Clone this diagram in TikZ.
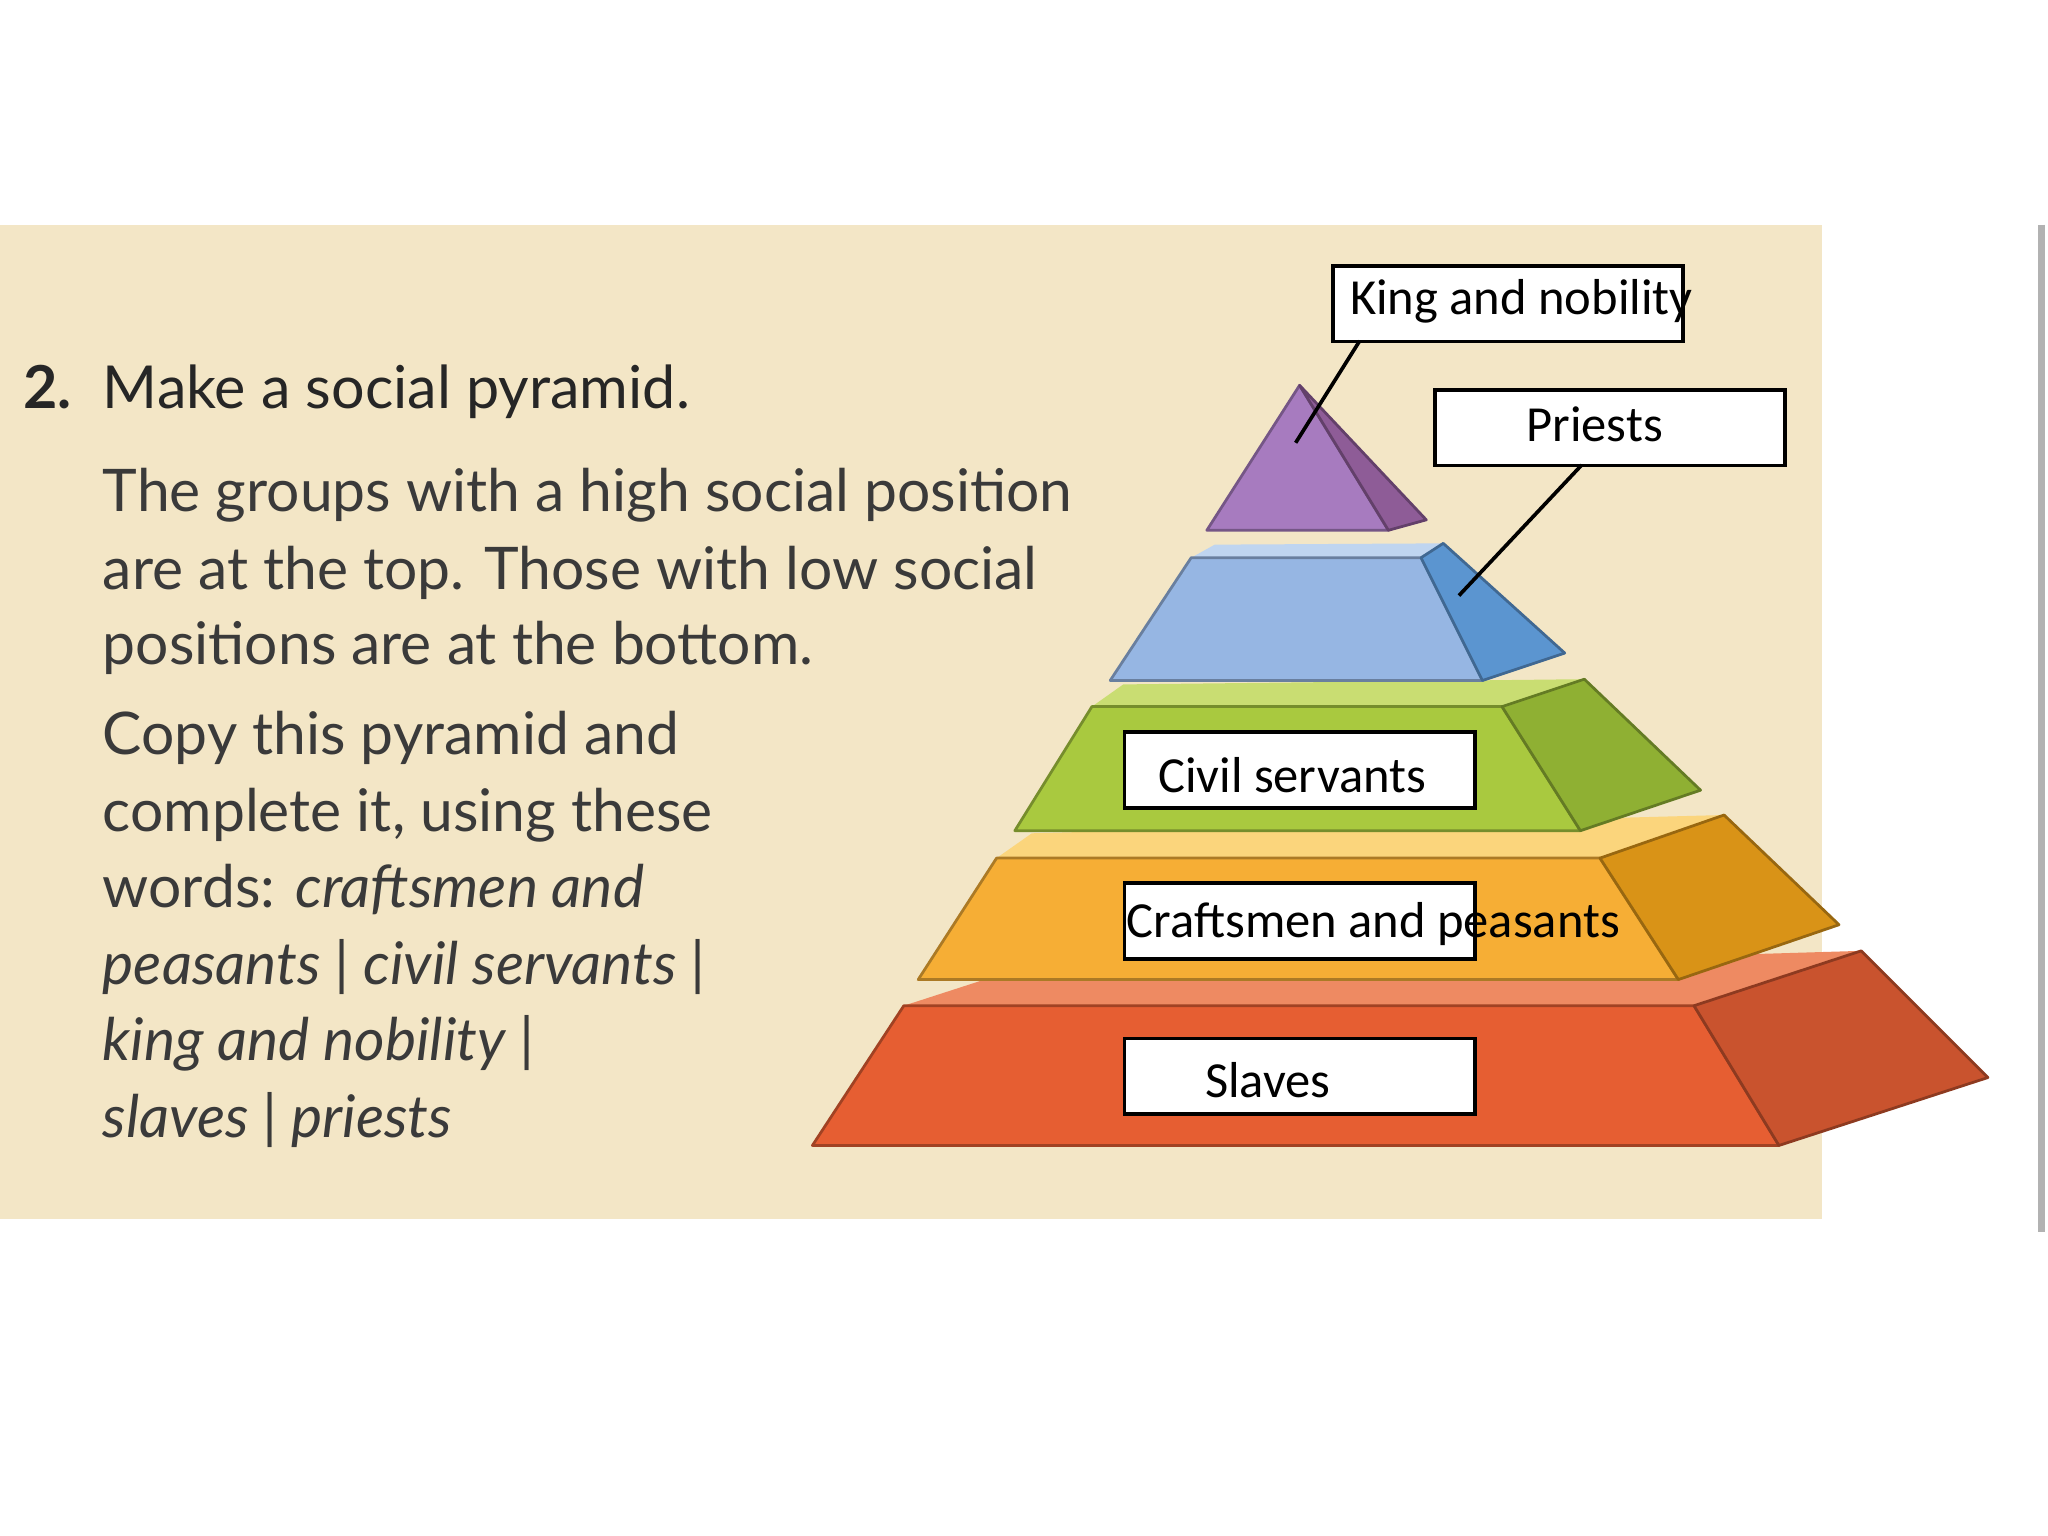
\documentclass[tikz,border=0pt]{standalone}
\usepackage{fontspec}
\setmainfont{Lato}
\newfontfamily\lbl{Carlito}
\definecolor{bg}{HTML}{F3E6C6}
\definecolor{txt}{HTML}{3A3A3A}
\tikzset{lab/.style={draw=black,line width=0.8pt,fill=white,minimum width=2.68cm,minimum height=0.58cm,inner sep=0pt},
 ltxt/.style={font=\lbl\fontsize{11pt}{11pt}\selectfont,anchor=base west,inner sep=0pt},
 body/.style={font=\fontsize{12.8pt}{16.5pt}\selectfont,text=txt,anchor=base west,inner sep=0pt},
 pe/.style={draw=#1!70!black,line width=0.6pt,line join=round}}
\begin{document}
\begin{tikzpicture}[x=0.01cm,y=-0.01cm]
\useasboundingbox (0,0) rectangle (1568,1176);
\fill[bg] (0,172) rectangle (1395,933);
\draw[gray!60,line width=1.5pt] (1563,172) -- (1563,943);
% text
\node[body,font=\bfseries\fontsize{12.9pt}{14pt}\selectfont,text=black!85] (n2) at (17,313) {2.};
\node[body,font=\fontsize{12.9pt}{14pt}\selectfont,text=black!85] (h) at (78,313) {Make a social pyramid.};
\node[body] (t1) at (78,392) {The groups with a high social position};
\node[body] (t2) at (78,451) {are at the top. Those with low social};
\node[body] (t3) at (78,509) {positions are at the bottom.};
\node[body] (t4) at (78,578) {Copy this pyramid and};
\node[body] (t5) at (78,637) {complete it, using these};
\node[body] (t6) at (78,695) {words: \textit{craftsmen and}};
\node[body] (t7) at (78,754) {\textit{peasants | civil servants |}};
\node[body] (t8) at (78,812) {\textit{king and nobility |}};
\node[body] (t9) at (78,871) {\textit{slaves | priests}};
% red
\definecolor{r1}{HTML}{E65E32}\definecolor{r2}{HTML}{C9532E}\definecolor{r3}{HTML}{EE8A62}
\fill[r3] (692,770) -- (760,748) -- (1425,728) -- (1297,770) -- cycle;
\fill[r1,pe=r1] (622,877) -- (692,770) -- (1297,770) -- (1362,877) -- cycle;
\fill[r2,pe=r2] (1297,770) -- (1425,728) -- (1522,825) -- (1362,877) -- cycle;
% orange
\definecolor{o1}{HTML}{F6AE35}\definecolor{o2}{HTML}{D99317}\definecolor{o3}{HTML}{FBD57C}
\fill[o3] (763,657) -- (790,638) -- (1320,624) -- (1225,657) -- cycle;
\fill[o1,pe=o1] (703,750) -- (763,657) -- (1225,657) -- (1285,750) -- cycle;
\fill[o2,pe=o2] (1225,657) -- (1320,624) -- (1408,708) -- (1285,750) -- cycle;
% green
\definecolor{g1}{HTML}{A9C93F}\definecolor{g2}{HTML}{8FB033}\definecolor{g3}{HTML}{C9DD72}
\fill[g3] (836,541) -- (860,524) -- (1213,520) -- (1150,541) -- cycle;
\fill[g1,pe=g1] (777,636) -- (836,541) -- (1150,541) -- (1210,636) -- cycle;
\fill[g2,pe=g2] (1150,541) -- (1213,520) -- (1302,605) -- (1210,636) -- cycle;
% blue
\definecolor{b1}{HTML}{96B6E3}\definecolor{b2}{HTML}{5B95D0}\definecolor{b3}{HTML}{BFD5F0}
\fill[b3] (912,427) -- (930,417) -- (1105,416) -- (1088,427) -- cycle;
\fill[b1,pe=b1] (850,521) -- (912,427) -- (1088,427) -- (1135,521) -- cycle;
\fill[b2,pe=b2] (1088,427) -- (1105,416) -- (1198,500) -- (1135,521) -- cycle;
% purple
\definecolor{p1}{HTML}{A77BBF}\definecolor{p2}{HTML}{8E5C97}
\fill[p1,pe=p1] (924,406) -- (995,295) -- (1063,406) -- cycle;
\fill[p2,pe=p2] (995,295) -- (1092,398) -- (1063,406) -- cycle;
% labels
\node[lab] (kb) at (1154.5,232.5) {};
\node[ltxt] (kt) at (1033,241) {King and nobility};
\node[lab] (pb) at (1232.5,327.5) {};
\node[ltxt] (pt) at (1168,338) {Priests};
\node[lab] (cb) at (995,589.5) {};
\node[ltxt] (ct) at (886,607) {Civil servants};
\node[lab] (fb) at (995,705) {};
\node[ltxt] (ft) at (862,718) {Craftsmen and peasants};
\node[lab] (sb) at (995,824) {};
\node[ltxt] (st) at (922,840) {Slaves};
\coordinate (k2) at (992,339);
\coordinate (p2c) at (1117,456);
\draw[line width=0.8pt] (1041,261) -- (k2);
\draw[line width=0.8pt] (1211,356) -- (p2c);
\end{tikzpicture}
\end{document}
